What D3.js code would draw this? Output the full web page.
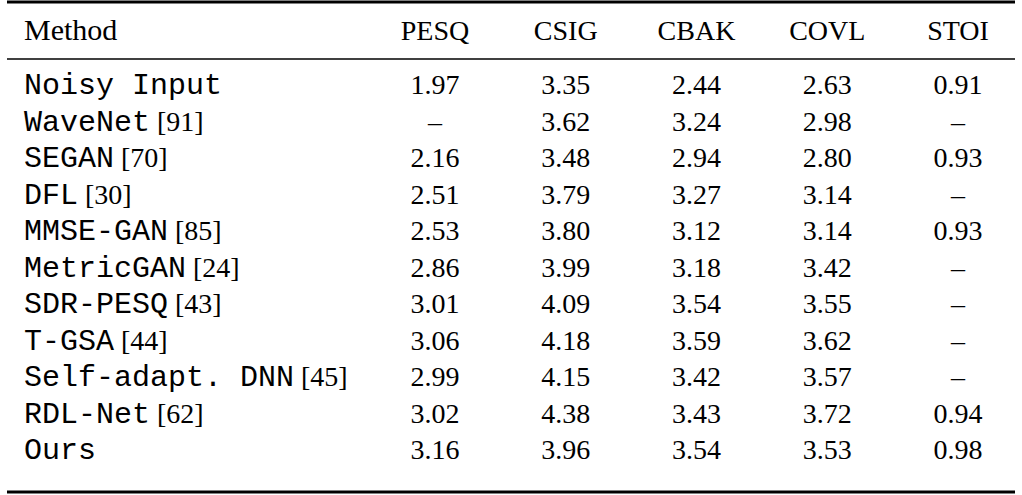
<!DOCTYPE html>
<html><head><meta charset="utf-8">
<script src="https://cdn.jsdelivr.net/npm/d3@7"></script>
<style>body{margin:0;background:#fff}</style></head>
<body><svg id="c" width="1022" height="495"></svg>
<script>
const columns = ["PESQ","CSIG","CBAK","COVL","STOI"];
const methodNames = ["Noisy Input","WaveNet","SEGAN","DFL","MMSE-GAN","MetricGAN","SDR-PESQ","T-GSA","Self-adapt. DNN","RDL-Net","Ours"];
const citations = ["","[91]","[70]","[30]","[85]","[24]","[43]","[44]","[45]","[62]",""];
const PESQ = ["1.97","–","2.16","2.51","2.53","2.86","3.01","3.06","2.99","3.02","3.16"];
const CSIG = ["3.35","3.62","3.48","3.79","3.80","3.99","4.09","4.18","4.15","4.38","3.96"];
const CBAK = ["2.44","3.24","2.94","3.27","3.12","3.18","3.54","3.59","3.42","3.43","3.54"];
const COVL = ["2.63","2.98","2.80","3.14","3.14","3.42","3.55","3.62","3.57","3.72","3.53"];
const STOI = ["0.91","–","0.93","–","0.93","–","–","–","–","0.94","0.98"];
const vals = [PESQ,CSIG,CBAK,COVL,STOI];

const svg = d3.select("#c");
const serif = "'Liberation Serif','Times New Roman',serif";
const mono = "'Liberation Mono','DejaVu Sans Mono',monospace";
const fs = 28;
const x = d3.scalePoint().domain(columns).range([435,958]);
const y = d3.scalePoint().domain(d3.range(methodNames.length)).range([85,450]);

const rule = (yy,w)=>svg.append("line").attr("x1",7).attr("x2",1015).attr("y1",yy).attr("y2",yy).attr("stroke","#000").attr("stroke-width",w);
rule(2,3); rule(59,1.6); rule(492,3);

svg.append("text").attr("x",24).attr("y",40).attr("font-family",serif).attr("font-size",30).text("Method");
columns.forEach(c=>svg.append("text").attr("x",x(c)).attr("y",40).attr("text-anchor","middle").attr("font-family",serif).attr("font-size",fs).text(c));

methodNames.forEach((m,i)=>{
  const t = svg.append("text").attr("x",24).attr("y",y(i)+9).attr("font-size",fs);
  t.append("tspan").attr("font-family",mono).attr("font-size",30).text(m);
  if(citations[i]) t.append("tspan").attr("font-family",serif).text(" "+citations[i]);
  columns.forEach((c,j)=>svg.append("text").attr("x",x(c)).attr("y",y(i)+9).attr("text-anchor","middle").attr("font-family",serif).attr("font-size",fs).text(vals[j][i]));
});
</script></body></html>
